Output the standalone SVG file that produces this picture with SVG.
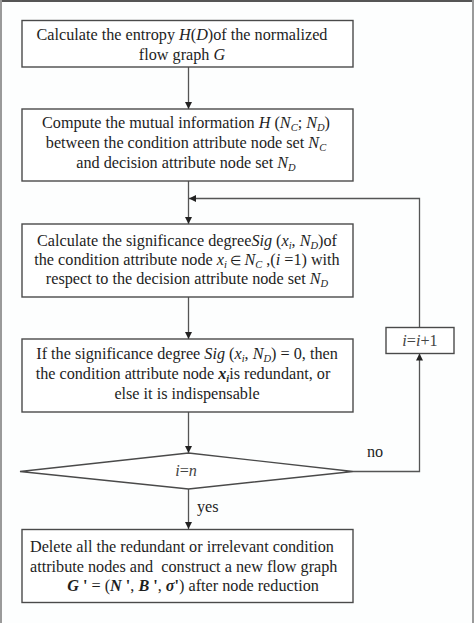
<svg xmlns="http://www.w3.org/2000/svg" width="474" height="623" viewBox="0 0 474 623">
<defs>
<style>
.box{fill:#fff;stroke:#4a4a4a;stroke-width:1.4}
.ln{fill:none;stroke:#555;stroke-width:1.3}
text{font-family:"Liberation Serif","Times New Roman",serif;font-size:16.2px;fill:#1e1e1e}
.c{text-anchor:middle}
.i{font-style:italic}
.s{font-size:10.5px}
.bi{font-style:italic;font-weight:bold}
.g{fill:#444}
</style>
<marker id="ah" viewBox="0 0 10 10" refX="10" refY="5" markerWidth="7" markerHeight="7" markerUnits="userSpaceOnUse" orient="auto">
<path d="M0,0 L10,5 L0,10 Z" fill="#222"/>
</marker>
</defs>
<rect x="0" y="0" width="474" height="623" fill="#fdfefe"/>
<rect x="0" y="0" width="474" height="2" fill="#555"/>
<rect x="0" y="0" width="2" height="623" fill="#9a9a9a"/>
<rect x="472" y="0" width="2" height="623" fill="#9a9a9a"/>

<g id="connectors">
<line class="ln" x1="188.5" y1="67" x2="188.5" y2="109" marker-end="url(#ah)"/>
<line class="ln" x1="188.5" y1="181" x2="188.5" y2="224" marker-end="url(#ah)"/>
<line class="ln" x1="188.5" y1="297" x2="188.5" y2="339" marker-end="url(#ah)"/>
<line class="ln" x1="188.5" y1="412" x2="188.5" y2="453" marker-end="url(#ah)"/>
<line class="ln" x1="188.5" y1="489" x2="188.5" y2="529" marker-end="url(#ah)"/>
<polyline class="ln" points="353,471.5 419.5,471.5 419.5,353.5" marker-end="url(#ah)"/>
<polyline class="ln" points="419.5,327.5 419.5,198.5 189,198.5" marker-end="url(#ah)"/>
<text x="367" y="457">no</text>
<text x="197" y="512">yes</text>
</g>

<g id="n1">
<rect class="box" x="22" y="20.5" width="331" height="46.5"/>
<text class="c" x="182" y="39.5">Calculate the entropy <tspan class="i">H</tspan>(<tspan class="i">D</tspan>)of the normalized</text>
<text class="c" x="182" y="60">flow graph <tspan class="i">G</tspan></text>
</g>

<g id="n2">
<rect class="box" x="22" y="109" width="331" height="72"/>
<text class="c" x="186" y="128">Compute the mutual information <tspan class="i">H</tspan> (<tspan class="i">N</tspan><tspan class="i s" dy="3">C</tspan><tspan dy="-3">; </tspan><tspan class="i">N</tspan><tspan class="i s" dy="3">D</tspan><tspan dy="-3">)</tspan></text>
<text class="c" x="186" y="148">between the condition attribute node set <tspan class="i">N</tspan><tspan class="i s" dy="3">C</tspan></text>
<text class="c" x="186" y="168">and decision attribute node set <tspan class="i">N</tspan><tspan class="i s" dy="3">D</tspan></text>
</g>

<g id="n3">
<rect class="box" x="22" y="224" width="331" height="73"/>
<text class="c" x="187" y="246">Calculate the significance degree<tspan class="i">Sig</tspan> (<tspan class="i">x</tspan><tspan class="i s" dy="3">i</tspan><tspan dy="-3">, </tspan><tspan class="i">N</tspan><tspan class="i s" dy="3">D</tspan><tspan dy="-3">)of</tspan></text>
<text class="c" x="187" y="265">the condition attribute node <tspan class="i">x</tspan><tspan class="i s" dy="3">i</tspan><tspan dy="-3" font-size="13px"> ∈ </tspan><tspan class="i">N</tspan><tspan class="i s" dy="3">C</tspan><tspan dy="-3"> ,(</tspan><tspan class="i">i</tspan> =1) with</text>
<text class="c" x="187" y="284">respect to the decision attribute node set <tspan class="i">N</tspan><tspan class="i s" dy="3">D</tspan></text>
</g>

<g id="n4">
<rect class="box" x="22" y="339" width="331" height="73"/>
<text class="c" x="187" y="359">If the significance degree <tspan class="i">Sig</tspan> (<tspan class="i">x</tspan><tspan class="i s" dy="3">i</tspan><tspan dy="-3">, </tspan><tspan class="i">N</tspan><tspan class="i s" dy="3">D</tspan><tspan dy="-3">) = 0, then</tspan></text>
<text class="c" x="183" y="379">the condition attribute node <tspan class="bi">x</tspan><tspan class="bi s" dy="3">i</tspan><tspan dy="-3">is redundant, or</tspan></text>
<text class="c" x="187" y="399">else it is indispensable</text>
</g>

<g id="n5">
<rect class="box" x="386" y="327.5" width="68" height="26"/>
<text class="c i g" x="420" y="345.5">i<tspan font-style="normal">=</tspan>i<tspan font-style="normal">+1</tspan></text>
</g>

<g id="n6">
<polygon class="box" points="20,471.5 188.5,453 353,471.5 188.5,489"/>
<text class="c i g" x="186" y="476">i<tspan font-style="normal">=</tspan>n</text>
</g>

<g id="n7">
<rect class="box" x="22" y="529.5" width="331" height="73"/>
<text x="30" y="552">Delete all the redundant or irrelevant condition</text>
<text x="30" y="572">attribute nodes and &#160;construct a new flow graph</text>
<text class="c" x="193" y="591"><tspan class="bi">G</tspan> <tspan font-weight="bold">'</tspan> = (<tspan class="bi">N</tspan> <tspan font-weight="bold">'</tspan>, <tspan class="bi">B</tspan> <tspan font-weight="bold">'</tspan>, <tspan class="bi">σ</tspan><tspan font-weight="bold">'</tspan>) after node reduction</text>
</g>
</svg>
